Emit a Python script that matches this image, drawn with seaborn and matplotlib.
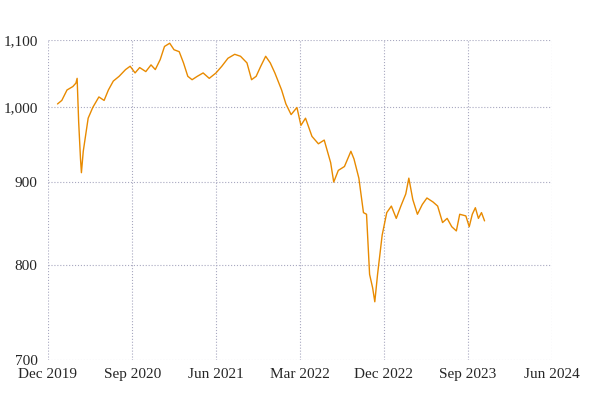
import pandas as pd
import seaborn as sns
import matplotlib.pyplot as plt
import matplotlib.dates as mdates
from matplotlib.ticker import FixedLocator, FuncFormatter, NullLocator

dates = [
    "2020-01-01", "2020-01-15", "2020-02-01", "2020-02-20", "2020-03-01", "2020-03-05",
    "2020-03-10", "2020-03-16", "2020-03-19", "2020-03-25", "2020-04-10", "2020-04-25",
    "2020-05-15", "2020-06-01", "2020-06-15", "2020-07-01", "2020-07-20", "2020-08-10",
    "2020-08-25", "2020-09-10", "2020-09-25", "2020-10-15", "2020-11-01", "2020-11-15",
    "2020-12-01", "2020-12-15", "2021-01-01", "2021-01-15", "2021-02-01", "2021-02-15",
    "2021-03-01", "2021-03-15", "2021-04-01", "2021-04-20", "2021-05-10", "2021-06-01",
    "2021-06-20", "2021-07-10", "2021-08-01", "2021-08-20", "2021-09-10", "2021-09-25",
    "2021-10-10", "2021-10-25", "2021-11-10", "2021-11-25", "2021-12-10", "2022-01-01",
    "2022-01-15", "2022-02-01", "2022-02-20", "2022-03-05", "2022-03-20", "2022-04-10",
    "2022-05-01", "2022-05-20", "2022-06-10", "2022-06-20", "2022-07-05", "2022-07-25",
    "2022-08-15", "2022-08-25", "2022-09-10", "2022-09-25", "2022-10-05", "2022-10-15",
    "2022-10-25", "2022-11-01", "2022-11-10", "2022-11-25", "2022-12-10", "2022-12-25",
    "2023-01-10", "2023-01-25", "2023-02-10", "2023-02-20", "2023-03-05", "2023-03-20",
    "2023-04-05", "2023-04-20", "2023-05-10", "2023-05-25", "2023-06-10", "2023-06-25",
    "2023-07-10", "2023-07-25", "2023-08-05", "2023-08-25", "2023-09-05", "2023-09-15",
    "2023-09-25", "2023-10-05", "2023-10-15", "2023-10-25",
]
values = [
    1005, 1010, 1025, 1030, 1035, 1042,
    980, 930, 912, 940, 985, 1000,
    1015, 1010, 1025, 1038, 1045, 1055,
    1060, 1050, 1058, 1052, 1062, 1055,
    1070, 1090, 1095, 1085, 1082, 1065,
    1045, 1040, 1045, 1050, 1042, 1050,
    1060, 1072, 1078, 1075, 1065, 1040,
    1045, 1060, 1075, 1065, 1050, 1025,
    1005, 990, 1000, 975, 985, 960,
    950, 955, 925, 900, 915, 920,
    940, 930, 905, 862, 860, 790,
    775, 760, 790, 835, 862, 870,
    855, 870, 885, 905, 878, 860,
    872, 880, 875, 870, 850, 855,
    845, 840, 860, 858, 845, 860,
    868, 855, 862, 852,
]
y_ticks = [700, 800, 900, 1000, 1100]
x_ticks = ["2019-12-01", "2020-09-01", "2021-06-01", "2022-03-01",
           "2022-12-01", "2023-09-01", "2024-06-01"]

df = pd.DataFrame({"date": pd.to_datetime(dates), "value": values})

sns.set_style("white")
plt.rcParams["font.family"] = ["Liberation Serif", "DejaVu Serif"]

fig = plt.figure(figsize=(6, 4), dpi=100)
ax = fig.add_axes([0.08, 0.1, 0.84, 0.8])
sns.lineplot(data=df, x="date", y="value", ax=ax, color="#e88a00", linewidth=1)

ax.set_yscale("log")
ax.set_ylim(700, 1100)
ax.yaxis.set_major_locator(FixedLocator(y_ticks))
ax.yaxis.set_minor_locator(NullLocator())
ax.yaxis.set_major_formatter(FuncFormatter(lambda v, p: f"{v:,.0f}"))

xt = pd.to_datetime(x_ticks)
ax.set_xlim(xt[0], xt[-1])
ax.set_xticks(xt)
ax.xaxis.set_major_formatter(mdates.DateFormatter("%b %Y"))

ax.grid(True, linestyle=":", color="#a8a8c0", linewidth=0.8)
for s in ax.spines.values():
    s.set_visible(False)
ax.tick_params(length=4, width=0.8, color="black", labelsize=11, direction="out")
ax.tick_params(axis="x", pad=2)
ax.set_xlabel("")
ax.set_ylabel("")

plt.savefig("out.png", dpi=100)
